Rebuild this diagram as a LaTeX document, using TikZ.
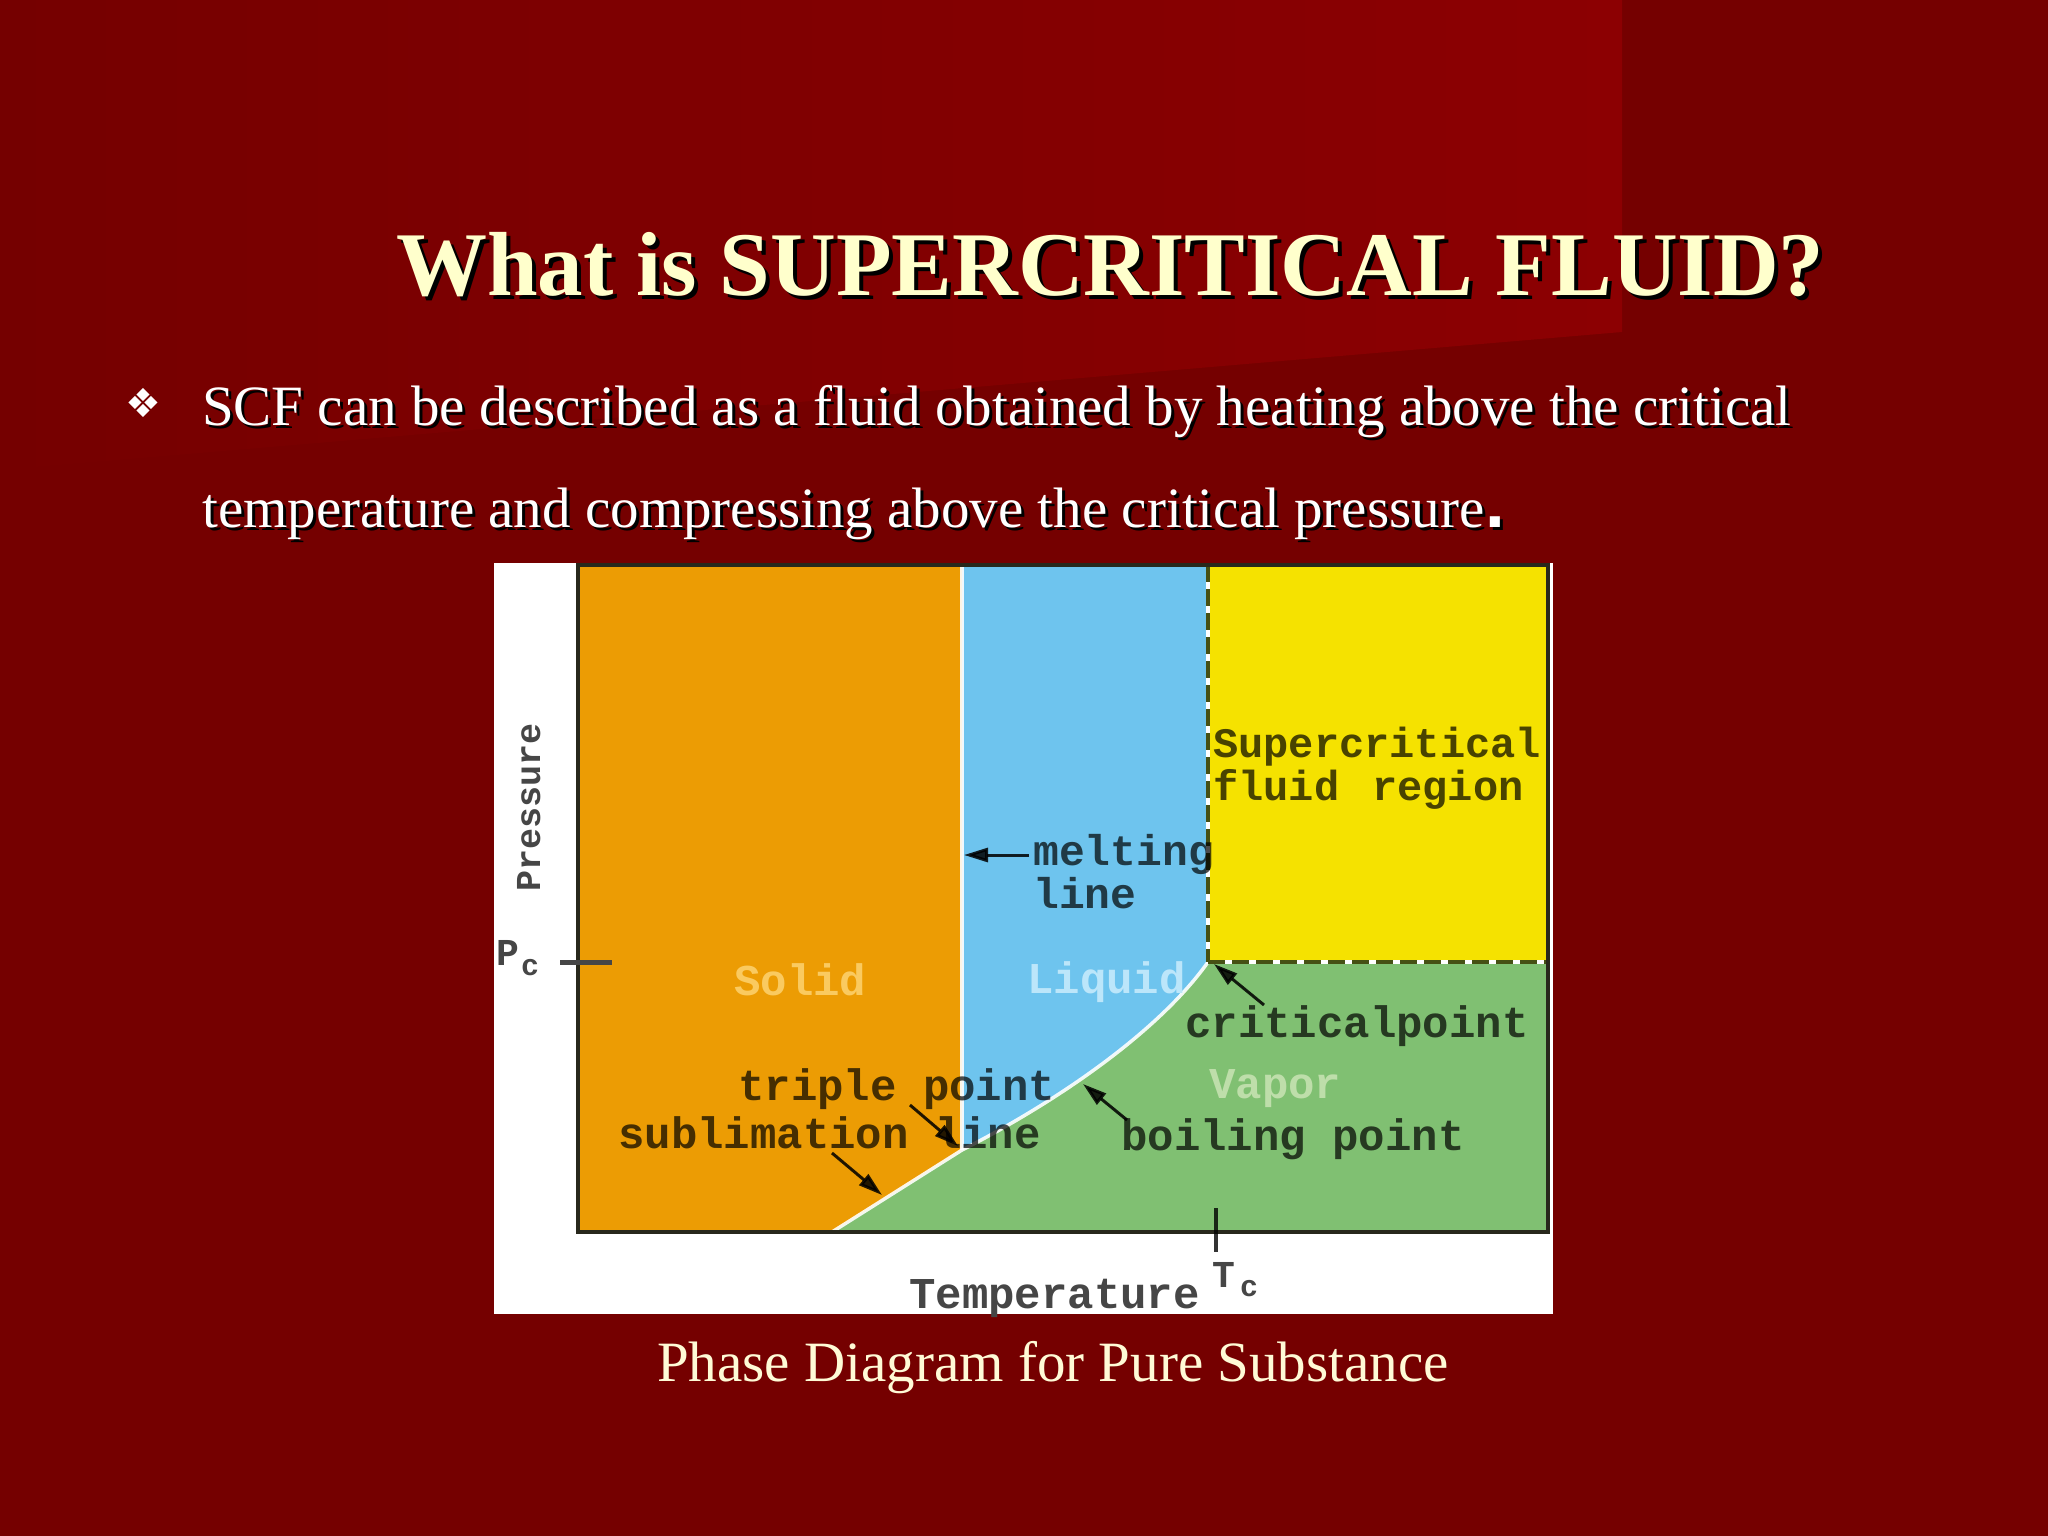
\documentclass[tikz,border=0pt]{standalone}
\usepackage{fontspec}
\setmainfont{Liberation Serif}
\newfontfamily\monof{Liberation Mono}
\newfontfamily\dejavuf{DejaVu Sans}
\usetikzlibrary{arrows.meta}
\definecolor{bg}{RGB}{117,0,0}
\definecolor{panel}{RGB}{140,0,2}
\definecolor{orangeR}{RGB}{236,156,4}
\definecolor{blueR}{RGB}{110,196,238}
\definecolor{yellowR}{RGB}{245,226,0}
\definecolor{greenR}{RGB}{128,192,114}
\definecolor{cream}{RGB}{255,255,204}
\definecolor{capc}{RGB}{255,250,214}
\definecolor{solidT}{RGB}{250,202,96}
\definecolor{liquidT}{RGB}{188,230,250}
\definecolor{vaporT}{RGB}{190,222,170}
\definecolor{framec}{RGB}{40,40,28}
\definecolor{dashc}{RGB}{70,80,20}
\definecolor{axisc}{RGB}{70,70,70}
\tikzset{
  titlef/.style={font=\bfseries\fontsize{91}{91}\selectfont, inner sep=0, anchor=base west},
  bodyf/.style={font=\fontsize{57}{57}\selectfont, inner sep=0, anchor=base west},
  lbl/.style={font=\monof\bfseries\fontsize{44}{44}\selectfont, text=black, text opacity=0.7, inner sep=0, anchor=base west},
  phase/.style={font=\monof\bfseries\fontsize{44}{44}\selectfont, inner sep=0, anchor=base west},
  axislbl/.style={font=\monof\bfseries\fontsize{#1}{#1}\selectfont, text=axisc, inner sep=0, anchor=base west},
  bound/.style={draw=white, line width=4pt, draw opacity=0.9},
  arr/.style={-{Triangle[length=24pt,width=14pt]}, line width=3pt, draw=black, fill=black, draw opacity=0.85, fill opacity=0.85},
}
\begin{document}
\begin{tikzpicture}[x=1pt,y=-1pt]
\useasboundingbox (0,0) rectangle (2048,1536);
\fill[bg] (0,0) rectangle (2048,1536);
\shade[left color=bg, right color=panel] (0,0) -- (1622,0) -- (1622,332) -- (0,470) -- cycle;

% title
\node[titlef, text=black] (titleshadow) at (400,299) {What is SUPERCRITICAL FLUID?};
\node[titlef, text=cream] (title) at (396,295) {What is SUPERCRITICAL FLUID?};

% bullet text
\node[font=\dejavuf\fontsize{40}{40}\selectfont, text=white, inner sep=0] (bullet) at (143,403) {❖};
\node[bodyf, text=black] (l1s) at (205,428) {SCF can be described as a fluid obtained by heating above the critical};
\node[bodyf, text=white] (l1) at (202,425) {SCF can be described as a fluid obtained by heating above the critical};
\node[bodyf, text=black] (l2s) at (205,530) {temperature and compressing above the critical pressure{\dejavuf\bfseries .}};
\node[bodyf, text=white] (l2) at (202,527) {temperature and compressing above the critical pressure{\dejavuf\bfseries .}};

% diagram
\fill[white] (494,563) rectangle (1553,1314);
\coordinate (fTL) at (578,565);
\coordinate (fBR) at (1548,1232);
\coordinate (meltTop) at (962,565);
\coordinate (triple) at (962,1150);
\coordinate (sublBot) at (832,1232);
\coordinate (crit) at (1208,962);
\coordinate (critTop) at (1208,565);
\coordinate (critRight) at (1548,962);
\fill[greenR] (fTL) rectangle (fBR);
\fill[orangeR] (fTL) -- (meltTop) -- (triple) -- (sublBot) -- (578,1232) -- cycle;
\fill[blueR] (meltTop) -- (critTop) -- (crit) .. controls (1160,1030) and (1060,1100) .. (triple) -- cycle;
\fill[yellowR] (critTop) rectangle (critRight);
\draw[bound] (meltTop) -- (triple);
\draw[bound, line width=3.5pt] (sublBot) -- (triple) .. controls (1060,1100) and (1160,1030) .. (crit);
\draw[white, line width=4pt] (critTop) -- (crit) -- (critRight);
\draw[dashc, line width=4pt, dash pattern=on 17pt off 7pt] (critTop) -- (crit);
\draw[dashc, line width=4pt, dash pattern=on 17pt off 7pt] (crit) -- (critRight);
\draw[framec, line width=4pt] (fTL) rectangle (fBR);

% ticks
\coordinate (pcA) at (560,962); \coordinate (pcB) at (612,962);
\draw[axisc, line width=5pt] (pcA) -- (pcB);
\coordinate (tcA) at (1216,1208); \coordinate (tcB) at (1216,1252);
\draw[black, draw opacity=0.8, line width=4pt] (tcA) -- (tcB);

% axis labels
\node[axislbl=38] (pcP) at (496,965) {P};
\node[axislbl=30] (pcc) at (521,975) {c};
\node[axislbl=35, rotate=90] (press) at (540,892) {Pressure};
\node[axislbl=44] (temp) at (909,1308) {Temperature};
\node[axislbl=38] (tcT) at (1212,1287) {T};
\node[axislbl=30] (tcc) at (1240,1296) {c};

% phase names
\node[phase, text=solidT] (solid) at (734,995) {Solid};
\node[phase, text=liquidT] (liquid) at (1027,993) {Liquid};
\node[phase, text=vaporT] (vapor) at (1209,1098) {Vapor};

% labels
\node[lbl, font=\monof\bfseries\fontsize{42}{42}\selectfont] (sup1) at (1213,757) {Supercritical};
\node[lbl, font=\monof\bfseries\fontsize{42}{42}\selectfont] (sup2) at (1213,800) {fluid\kern8pt\ region};
\node[lbl, font=\monof\bfseries\fontsize{43}{43}\selectfont] (melt1) at (1033,865) {melting};
\node[lbl, font=\monof\bfseries\fontsize{43}{43}\selectfont] (melt2) at (1033,908) {line};
\node[lbl] (critlbl) at (1185,1037) {criticalpoint};
\node[lbl] (boil) at (1121,1150) {boiling point};
\node[lbl] (triplbl) at (738,1100) {triple point};
\node[lbl] (subl) at (618,1148) {sublimation line};

% arrows
\coordinate (mT) at (1029,855); \coordinate (mH) at (964,855);
\coordinate (cT) at (1264,1005); \coordinate (cH) at (1214,964);
\coordinate (bT) at (1127,1120); \coordinate (bH) at (1083,1084);
\coordinate (tT) at (910,1105); \coordinate (tH) at (958,1146);
\coordinate (sT) at (832,1153); \coordinate (sH) at (882,1195);
\draw[arr] (mT) -- (mH);
\draw[arr] (cT) -- (cH);
\draw[arr] (bT) -- (bH);
\draw[arr] (tT) -- (tH);
\draw[arr] (sT) -- (sH);

% caption
\node[bodyf, text=capc] (caption) at (657,1381) {Phase Diagram for Pure Substance};
\end{tikzpicture}
\end{document}
